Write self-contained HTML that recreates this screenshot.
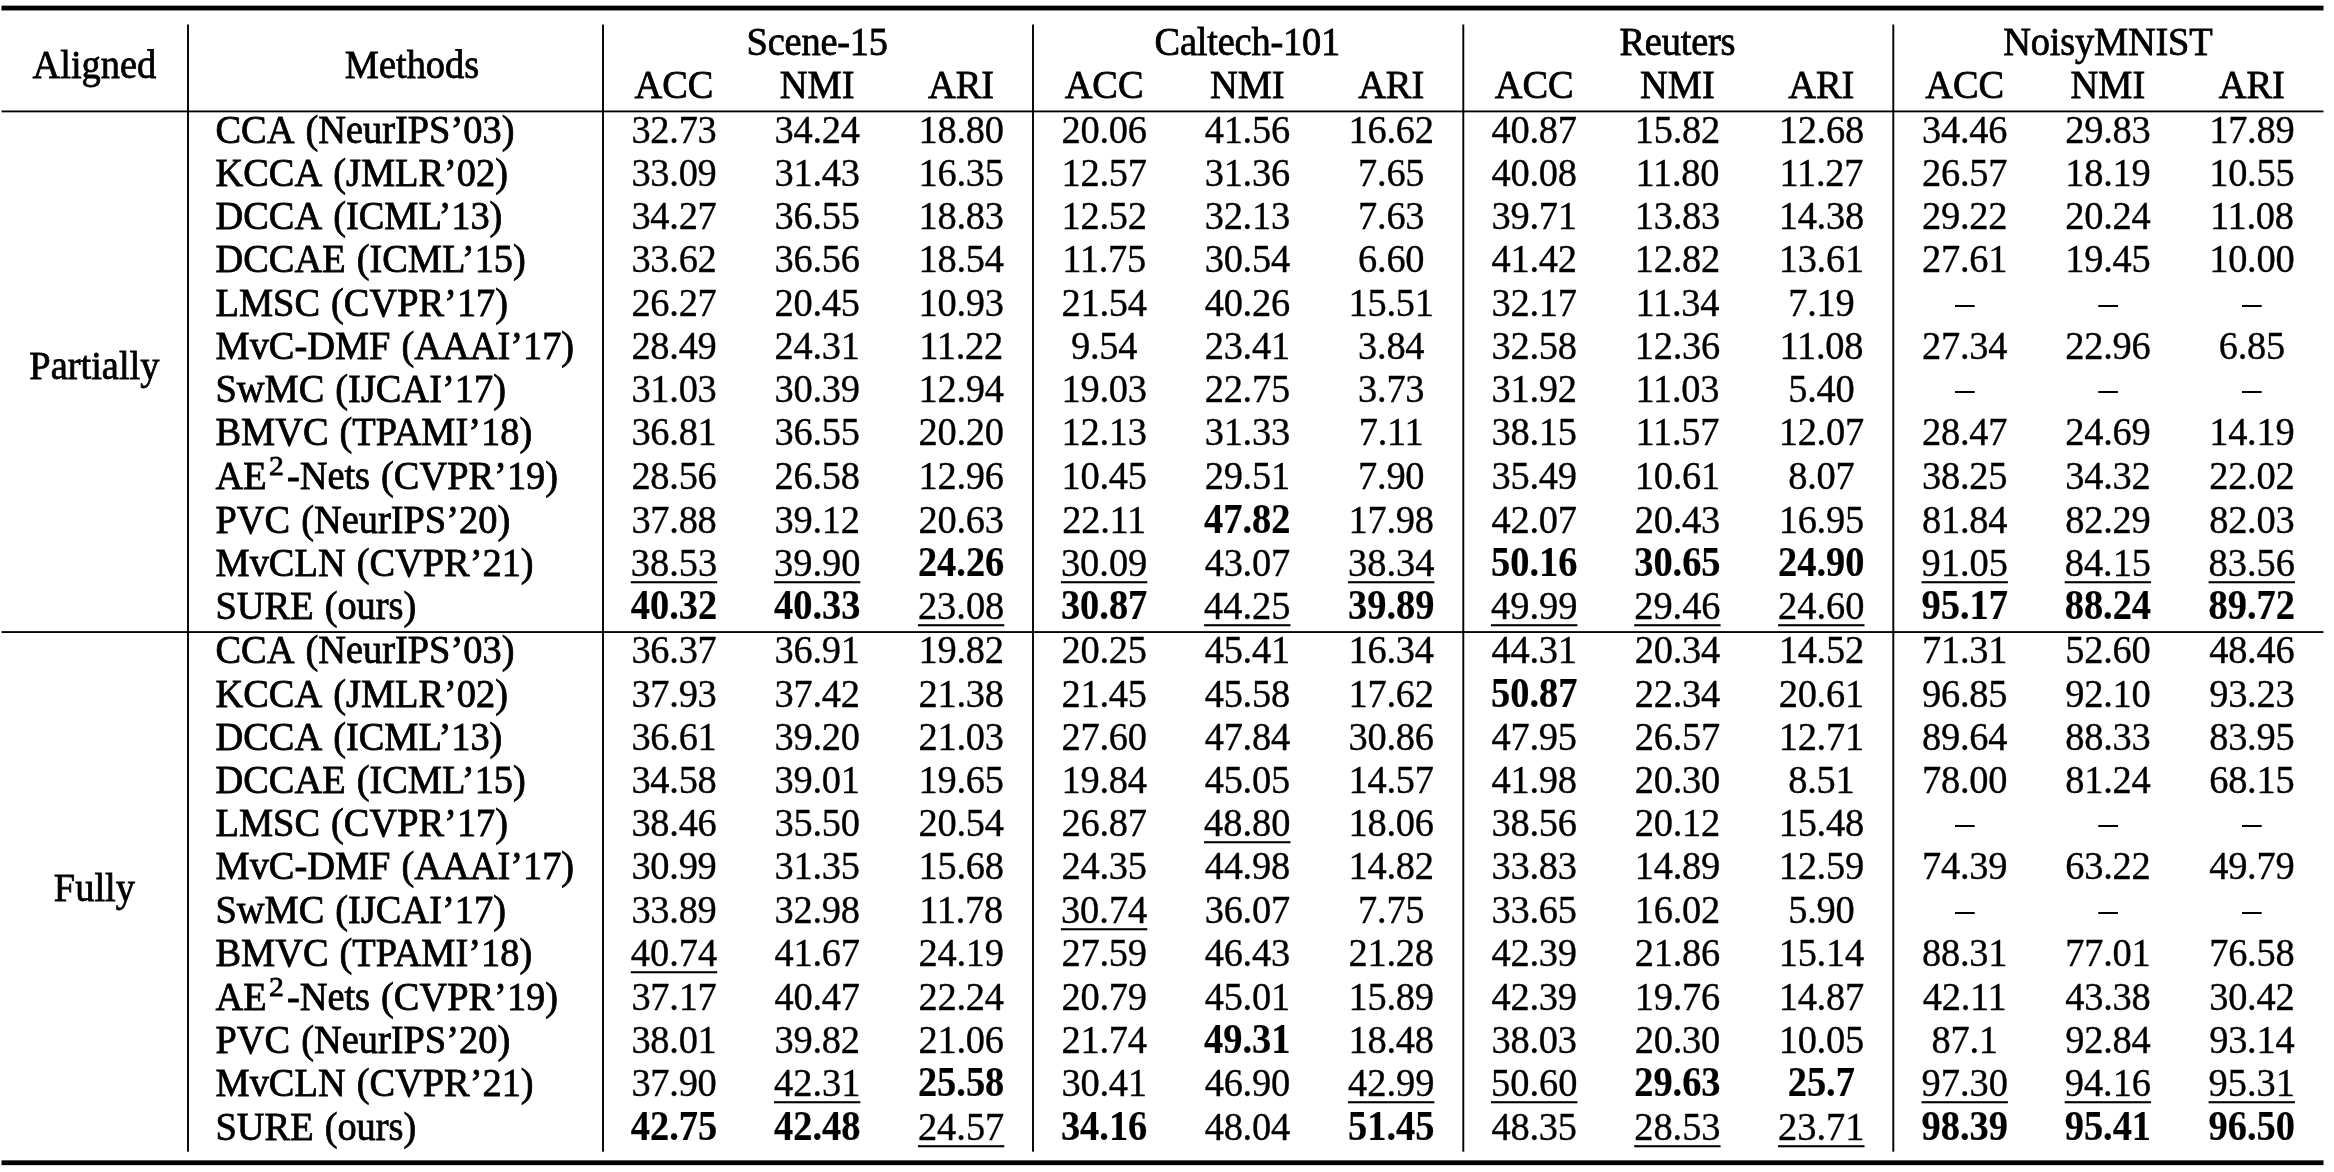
<!DOCTYPE html>
<html lang="en">
<head>
<meta charset="utf-8">
<title>Clustering results table</title>
<style>
html,body{margin:0;padding:0;background:#fff;}
body{width:2334px;height:1172px;overflow:hidden;}
#tbl{position:relative;width:2334px;height:1172px;background:#fff;color:#000;font-family:"Liberation Serif","DejaVu Serif",serif;font-size:38.4px;line-height:44px;font-kerning:normal;will-change:transform;-webkit-text-stroke:0.75px #000;}
.r{position:absolute;left:0;width:2334px;height:44px;transform:scaleY(1.04);transform-origin:0 34.96px;}
.c{position:absolute;top:0;width:160px;margin-left:-80px;text-align:center;white-space:nowrap;}
.w{width:420px;margin-left:-210px;}
.g{letter-spacing:-0.2px;}
.m{position:absolute;top:0;left:215.5px;white-space:nowrap;word-spacing:1.4px;}
b{font-weight:bold;-webkit-text-stroke:0.2px #000;letter-spacing:0;display:inline-block;transform:scaleY(1.045);transform-origin:0 34.96px;}
.d{position:relative;top:-1px;-webkit-text-stroke:0;}
.n{letter-spacing:-0.25px;-webkit-text-stroke:0.35px #000;}
.k{display:inline-block;}
u{text-decoration:underline;text-decoration-thickness:1.75px;text-underline-offset:5.1px;text-decoration-skip-ink:none;letter-spacing:0;}
sup{display:inline-block;font-size:27px;line-height:0;vertical-align:baseline;position:relative;top:-13.2px;margin:0 4.1px 0 2.6px;transform:scaleX(1.1);transform-origin:0 0;}
</style>
</head>
<body>
<div id="tbl">
<svg id="rules" width="2334" height="1172" viewBox="0 0 2334 1172" style="position:absolute;left:0;top:0" shape-rendering="geometricPrecision" fill="#000">
<rect x="1.5" y="5.65" width="2322" height="4.8"/>
<rect x="1.5" y="110.48" width="2322" height="1.85"/>
<rect x="1.5" y="631.12" width="2322" height="1.85"/>
<rect x="1.5" y="1160.35" width="2322" height="4.8"/>
<rect x="187.05" y="24.5" width="1.9" height="1127.2"/>
<rect x="602.05" y="24.5" width="1.9" height="1127.2"/>
<rect x="1032.05" y="24.5" width="1.9" height="1127.2"/>
<rect x="1462.35" y="24.5" width="1.9" height="1127.2"/>
<rect x="1892.35" y="24.5" width="1.9" height="1127.2"/>
</svg>
<div class="r" style="top:42.54px"><span class="c" style="left:94.4px">Aligned</span><span class="c w" style="left:412px">Methods</span></div>
<div class="r" style="top:20.04px"><span class="c w g" style="left:817.2px">Scene-15</span><span class="c w g" style="left:1247.3px">Caltech-101</span><span class="c w g" style="left:1677.4px">Reuters</span><span class="c w g" style="left:2107.9px">NoisyMNIST</span></div>
<div class="r" style="top:63.34px"><span class="c" style="left:674px">ACC</span><span class="c" style="left:817.2px">NMI</span><span class="c" style="left:961.1px">ARI</span><span class="c" style="left:1104.1px">ACC</span><span class="c" style="left:1247.3px">NMI</span><span class="c" style="left:1391.2px">ARI</span><span class="c" style="left:1534.2px">ACC</span><span class="c" style="left:1677.4px">NMI</span><span class="c" style="left:1821.3px">ARI</span><span class="c" style="left:1964.7px">ACC</span><span class="c" style="left:2107.9px">NMI</span><span class="c" style="left:2251.8px">ARI</span></div>
<div class="r" style="top:344.34px"><span class="c" style="left:94.4px">Partially</span></div>
<div class="r" style="top:866.04px"><span class="c" style="left:94.4px">Fully</span></div>
<div class="r" style="top:107.84px"><span class="m"><span class="k">CCA</span> <span class="k">(NeurIPS’03)</span></span><span class="c n" style="left:674px">32.73</span><span class="c n" style="left:817.2px">34.24</span><span class="c n" style="left:961.1px">18.80</span><span class="c n" style="left:1104.1px">20.06</span><span class="c n" style="left:1247.3px">41.56</span><span class="c n" style="left:1391.2px">16.62</span><span class="c n" style="left:1534.2px">40.87</span><span class="c n" style="left:1677.4px">15.82</span><span class="c n" style="left:1821.3px">12.68</span><span class="c n" style="left:1964.7px">34.46</span><span class="c n" style="left:2107.9px">29.83</span><span class="c n" style="left:2251.8px">17.89</span></div>
<div class="r" style="top:151.04px"><span class="m"><span class="k">KCCA</span> <span class="k">(JMLR’02)</span></span><span class="c n" style="left:674px">33.09</span><span class="c n" style="left:817.2px">31.43</span><span class="c n" style="left:961.1px">16.35</span><span class="c n" style="left:1104.1px">12.57</span><span class="c n" style="left:1247.3px">31.36</span><span class="c n" style="left:1391.2px">7.65</span><span class="c n" style="left:1534.2px">40.08</span><span class="c n" style="left:1677.4px">11.80</span><span class="c n" style="left:1821.3px">11.27</span><span class="c n" style="left:1964.7px">26.57</span><span class="c n" style="left:2107.9px">18.19</span><span class="c n" style="left:2251.8px">10.55</span></div>
<div class="r" style="top:194.24px"><span class="m"><span class="k">DCCA</span> <span class="k">(ICML’13)</span></span><span class="c n" style="left:674px">34.27</span><span class="c n" style="left:817.2px">36.55</span><span class="c n" style="left:961.1px">18.83</span><span class="c n" style="left:1104.1px">12.52</span><span class="c n" style="left:1247.3px">32.13</span><span class="c n" style="left:1391.2px">7.63</span><span class="c n" style="left:1534.2px">39.71</span><span class="c n" style="left:1677.4px">13.83</span><span class="c n" style="left:1821.3px">14.38</span><span class="c n" style="left:1964.7px">29.22</span><span class="c n" style="left:2107.9px">20.24</span><span class="c n" style="left:2251.8px">11.08</span></div>
<div class="r" style="top:237.44px"><span class="m"><span class="k">DCCAE</span> <span class="k">(ICML’15)</span></span><span class="c n" style="left:674px">33.62</span><span class="c n" style="left:817.2px">36.56</span><span class="c n" style="left:961.1px">18.54</span><span class="c n" style="left:1104.1px">11.75</span><span class="c n" style="left:1247.3px">30.54</span><span class="c n" style="left:1391.2px">6.60</span><span class="c n" style="left:1534.2px">41.42</span><span class="c n" style="left:1677.4px">12.82</span><span class="c n" style="left:1821.3px">13.61</span><span class="c n" style="left:1964.7px">27.61</span><span class="c n" style="left:2107.9px">19.45</span><span class="c n" style="left:2251.8px">10.00</span></div>
<div class="r" style="top:280.64px"><span class="m"><span class="k">LMSC</span> <span class="k">(CVPR’17)</span></span><span class="c n" style="left:674px">26.27</span><span class="c n" style="left:817.2px">20.45</span><span class="c n" style="left:961.1px">10.93</span><span class="c n" style="left:1104.1px">21.54</span><span class="c n" style="left:1247.3px">40.26</span><span class="c n" style="left:1391.2px">15.51</span><span class="c n" style="left:1534.2px">32.17</span><span class="c n" style="left:1677.4px">11.34</span><span class="c n" style="left:1821.3px">7.19</span><span class="c n" style="left:1964.7px"><span class="d">–</span></span><span class="c n" style="left:2107.9px"><span class="d">–</span></span><span class="c n" style="left:2251.8px"><span class="d">–</span></span></div>
<div class="r" style="top:323.84px"><span class="m"><span class="k">MvC-DMF</span> <span class="k">(AAAI’17)</span></span><span class="c n" style="left:674px">28.49</span><span class="c n" style="left:817.2px">24.31</span><span class="c n" style="left:961.1px">11.22</span><span class="c n" style="left:1104.1px">9.54</span><span class="c n" style="left:1247.3px">23.41</span><span class="c n" style="left:1391.2px">3.84</span><span class="c n" style="left:1534.2px">32.58</span><span class="c n" style="left:1677.4px">12.36</span><span class="c n" style="left:1821.3px">11.08</span><span class="c n" style="left:1964.7px">27.34</span><span class="c n" style="left:2107.9px">22.96</span><span class="c n" style="left:2251.8px">6.85</span></div>
<div class="r" style="top:367.04px"><span class="m"><span class="k">SwMC</span> <span class="k">(IJCAI’17)</span></span><span class="c n" style="left:674px">31.03</span><span class="c n" style="left:817.2px">30.39</span><span class="c n" style="left:961.1px">12.94</span><span class="c n" style="left:1104.1px">19.03</span><span class="c n" style="left:1247.3px">22.75</span><span class="c n" style="left:1391.2px">3.73</span><span class="c n" style="left:1534.2px">31.92</span><span class="c n" style="left:1677.4px">11.03</span><span class="c n" style="left:1821.3px">5.40</span><span class="c n" style="left:1964.7px"><span class="d">–</span></span><span class="c n" style="left:2107.9px"><span class="d">–</span></span><span class="c n" style="left:2251.8px"><span class="d">–</span></span></div>
<div class="r" style="top:410.24px"><span class="m"><span class="k">BMVC</span> <span class="k">(TPAMI’18)</span></span><span class="c n" style="left:674px">36.81</span><span class="c n" style="left:817.2px">36.55</span><span class="c n" style="left:961.1px">20.20</span><span class="c n" style="left:1104.1px">12.13</span><span class="c n" style="left:1247.3px">31.33</span><span class="c n" style="left:1391.2px">7.11</span><span class="c n" style="left:1534.2px">38.15</span><span class="c n" style="left:1677.4px">11.57</span><span class="c n" style="left:1821.3px">12.07</span><span class="c n" style="left:1964.7px">28.47</span><span class="c n" style="left:2107.9px">24.69</span><span class="c n" style="left:2251.8px">14.19</span></div>
<div class="r" style="top:454.44px"><span class="m"><span class="k">AE<sup>2</sup>-Nets</span> <span class="k">(CVPR’19)</span></span><span class="c n" style="left:674px">28.56</span><span class="c n" style="left:817.2px">26.58</span><span class="c n" style="left:961.1px">12.96</span><span class="c n" style="left:1104.1px">10.45</span><span class="c n" style="left:1247.3px">29.51</span><span class="c n" style="left:1391.2px">7.90</span><span class="c n" style="left:1534.2px">35.49</span><span class="c n" style="left:1677.4px">10.61</span><span class="c n" style="left:1821.3px">8.07</span><span class="c n" style="left:1964.7px">38.25</span><span class="c n" style="left:2107.9px">34.32</span><span class="c n" style="left:2251.8px">22.02</span></div>
<div class="r" style="top:497.64px"><span class="m"><span class="k">PVC</span> <span class="k">(NeurIPS’20)</span></span><span class="c n" style="left:674px">37.88</span><span class="c n" style="left:817.2px">39.12</span><span class="c n" style="left:961.1px">20.63</span><span class="c n" style="left:1104.1px">22.11</span><span class="c n" style="left:1247.3px"><b>47.82</b></span><span class="c n" style="left:1391.2px">17.98</span><span class="c n" style="left:1534.2px">42.07</span><span class="c n" style="left:1677.4px">20.43</span><span class="c n" style="left:1821.3px">16.95</span><span class="c n" style="left:1964.7px">81.84</span><span class="c n" style="left:2107.9px">82.29</span><span class="c n" style="left:2251.8px">82.03</span></div>
<div class="r" style="top:540.84px"><span class="m"><span class="k">MvCLN</span> <span class="k">(CVPR’21)</span></span><span class="c n" style="left:674px"><u>38.53</u></span><span class="c n" style="left:817.2px"><u>39.90</u></span><span class="c n" style="left:961.1px"><b>24.26</b></span><span class="c n" style="left:1104.1px"><u>30.09</u></span><span class="c n" style="left:1247.3px">43.07</span><span class="c n" style="left:1391.2px"><u>38.34</u></span><span class="c n" style="left:1534.2px"><b>50.16</b></span><span class="c n" style="left:1677.4px"><b>30.65</b></span><span class="c n" style="left:1821.3px"><b>24.90</b></span><span class="c n" style="left:1964.7px"><u>91.05</u></span><span class="c n" style="left:2107.9px"><u>84.15</u></span><span class="c n" style="left:2251.8px"><u>83.56</u></span></div>
<div class="r" style="top:584.04px"><span class="m"><span class="k">SURE</span> <span class="k">(ours)</span></span><span class="c n" style="left:674px"><b>40.32</b></span><span class="c n" style="left:817.2px"><b>40.33</b></span><span class="c n" style="left:961.1px"><u>23.08</u></span><span class="c n" style="left:1104.1px"><b>30.87</b></span><span class="c n" style="left:1247.3px"><u>44.25</u></span><span class="c n" style="left:1391.2px"><b>39.89</b></span><span class="c n" style="left:1534.2px"><u>49.99</u></span><span class="c n" style="left:1677.4px"><u>29.46</u></span><span class="c n" style="left:1821.3px"><u>24.60</u></span><span class="c n" style="left:1964.7px"><b>95.17</b></span><span class="c n" style="left:2107.9px"><b>88.24</b></span><span class="c n" style="left:2251.8px"><b>89.72</b></span></div>
<div class="r" style="top:628.34px"><span class="m"><span class="k">CCA</span> <span class="k">(NeurIPS’03)</span></span><span class="c n" style="left:674px">36.37</span><span class="c n" style="left:817.2px">36.91</span><span class="c n" style="left:961.1px">19.82</span><span class="c n" style="left:1104.1px">20.25</span><span class="c n" style="left:1247.3px">45.41</span><span class="c n" style="left:1391.2px">16.34</span><span class="c n" style="left:1534.2px">44.31</span><span class="c n" style="left:1677.4px">20.34</span><span class="c n" style="left:1821.3px">14.52</span><span class="c n" style="left:1964.7px">71.31</span><span class="c n" style="left:2107.9px">52.60</span><span class="c n" style="left:2251.8px">48.46</span></div>
<div class="r" style="top:671.54px"><span class="m"><span class="k">KCCA</span> <span class="k">(JMLR’02)</span></span><span class="c n" style="left:674px">37.93</span><span class="c n" style="left:817.2px">37.42</span><span class="c n" style="left:961.1px">21.38</span><span class="c n" style="left:1104.1px">21.45</span><span class="c n" style="left:1247.3px">45.58</span><span class="c n" style="left:1391.2px">17.62</span><span class="c n" style="left:1534.2px"><b>50.87</b></span><span class="c n" style="left:1677.4px">22.34</span><span class="c n" style="left:1821.3px">20.61</span><span class="c n" style="left:1964.7px">96.85</span><span class="c n" style="left:2107.9px">92.10</span><span class="c n" style="left:2251.8px">93.23</span></div>
<div class="r" style="top:714.74px"><span class="m"><span class="k">DCCA</span> <span class="k">(ICML’13)</span></span><span class="c n" style="left:674px">36.61</span><span class="c n" style="left:817.2px">39.20</span><span class="c n" style="left:961.1px">21.03</span><span class="c n" style="left:1104.1px">27.60</span><span class="c n" style="left:1247.3px">47.84</span><span class="c n" style="left:1391.2px">30.86</span><span class="c n" style="left:1534.2px">47.95</span><span class="c n" style="left:1677.4px">26.57</span><span class="c n" style="left:1821.3px">12.71</span><span class="c n" style="left:1964.7px">89.64</span><span class="c n" style="left:2107.9px">88.33</span><span class="c n" style="left:2251.8px">83.95</span></div>
<div class="r" style="top:757.94px"><span class="m"><span class="k">DCCAE</span> <span class="k">(ICML’15)</span></span><span class="c n" style="left:674px">34.58</span><span class="c n" style="left:817.2px">39.01</span><span class="c n" style="left:961.1px">19.65</span><span class="c n" style="left:1104.1px">19.84</span><span class="c n" style="left:1247.3px">45.05</span><span class="c n" style="left:1391.2px">14.57</span><span class="c n" style="left:1534.2px">41.98</span><span class="c n" style="left:1677.4px">20.30</span><span class="c n" style="left:1821.3px">8.51</span><span class="c n" style="left:1964.7px">78.00</span><span class="c n" style="left:2107.9px">81.24</span><span class="c n" style="left:2251.8px">68.15</span></div>
<div class="r" style="top:801.14px"><span class="m"><span class="k">LMSC</span> <span class="k">(CVPR’17)</span></span><span class="c n" style="left:674px">38.46</span><span class="c n" style="left:817.2px">35.50</span><span class="c n" style="left:961.1px">20.54</span><span class="c n" style="left:1104.1px">26.87</span><span class="c n" style="left:1247.3px"><u>48.80</u></span><span class="c n" style="left:1391.2px">18.06</span><span class="c n" style="left:1534.2px">38.56</span><span class="c n" style="left:1677.4px">20.12</span><span class="c n" style="left:1821.3px">15.48</span><span class="c n" style="left:1964.7px"><span class="d">–</span></span><span class="c n" style="left:2107.9px"><span class="d">–</span></span><span class="c n" style="left:2251.8px"><span class="d">–</span></span></div>
<div class="r" style="top:844.34px"><span class="m"><span class="k">MvC-DMF</span> <span class="k">(AAAI’17)</span></span><span class="c n" style="left:674px">30.99</span><span class="c n" style="left:817.2px">31.35</span><span class="c n" style="left:961.1px">15.68</span><span class="c n" style="left:1104.1px">24.35</span><span class="c n" style="left:1247.3px">44.98</span><span class="c n" style="left:1391.2px">14.82</span><span class="c n" style="left:1534.2px">33.83</span><span class="c n" style="left:1677.4px">14.89</span><span class="c n" style="left:1821.3px">12.59</span><span class="c n" style="left:1964.7px">74.39</span><span class="c n" style="left:2107.9px">63.22</span><span class="c n" style="left:2251.8px">49.79</span></div>
<div class="r" style="top:887.54px"><span class="m"><span class="k">SwMC</span> <span class="k">(IJCAI’17)</span></span><span class="c n" style="left:674px">33.89</span><span class="c n" style="left:817.2px">32.98</span><span class="c n" style="left:961.1px">11.78</span><span class="c n" style="left:1104.1px"><u>30.74</u></span><span class="c n" style="left:1247.3px">36.07</span><span class="c n" style="left:1391.2px">7.75</span><span class="c n" style="left:1534.2px">33.65</span><span class="c n" style="left:1677.4px">16.02</span><span class="c n" style="left:1821.3px">5.90</span><span class="c n" style="left:1964.7px"><span class="d">–</span></span><span class="c n" style="left:2107.9px"><span class="d">–</span></span><span class="c n" style="left:2251.8px"><span class="d">–</span></span></div>
<div class="r" style="top:930.74px"><span class="m"><span class="k">BMVC</span> <span class="k">(TPAMI’18)</span></span><span class="c n" style="left:674px"><u>40.74</u></span><span class="c n" style="left:817.2px">41.67</span><span class="c n" style="left:961.1px">24.19</span><span class="c n" style="left:1104.1px">27.59</span><span class="c n" style="left:1247.3px">46.43</span><span class="c n" style="left:1391.2px">21.28</span><span class="c n" style="left:1534.2px">42.39</span><span class="c n" style="left:1677.4px">21.86</span><span class="c n" style="left:1821.3px">15.14</span><span class="c n" style="left:1964.7px">88.31</span><span class="c n" style="left:2107.9px">77.01</span><span class="c n" style="left:2251.8px">76.58</span></div>
<div class="r" style="top:974.94px"><span class="m"><span class="k">AE<sup>2</sup>-Nets</span> <span class="k">(CVPR’19)</span></span><span class="c n" style="left:674px">37.17</span><span class="c n" style="left:817.2px">40.47</span><span class="c n" style="left:961.1px">22.24</span><span class="c n" style="left:1104.1px">20.79</span><span class="c n" style="left:1247.3px">45.01</span><span class="c n" style="left:1391.2px">15.89</span><span class="c n" style="left:1534.2px">42.39</span><span class="c n" style="left:1677.4px">19.76</span><span class="c n" style="left:1821.3px">14.87</span><span class="c n" style="left:1964.7px">42.11</span><span class="c n" style="left:2107.9px">43.38</span><span class="c n" style="left:2251.8px">30.42</span></div>
<div class="r" style="top:1018.14px"><span class="m"><span class="k">PVC</span> <span class="k">(NeurIPS’20)</span></span><span class="c n" style="left:674px">38.01</span><span class="c n" style="left:817.2px">39.82</span><span class="c n" style="left:961.1px">21.06</span><span class="c n" style="left:1104.1px">21.74</span><span class="c n" style="left:1247.3px"><b>49.31</b></span><span class="c n" style="left:1391.2px">18.48</span><span class="c n" style="left:1534.2px">38.03</span><span class="c n" style="left:1677.4px">20.30</span><span class="c n" style="left:1821.3px">10.05</span><span class="c n" style="left:1964.7px">87.1</span><span class="c n" style="left:2107.9px">92.84</span><span class="c n" style="left:2251.8px">93.14</span></div>
<div class="r" style="top:1061.34px"><span class="m"><span class="k">MvCLN</span> <span class="k">(CVPR’21)</span></span><span class="c n" style="left:674px">37.90</span><span class="c n" style="left:817.2px"><u>42.31</u></span><span class="c n" style="left:961.1px"><b>25.58</b></span><span class="c n" style="left:1104.1px">30.41</span><span class="c n" style="left:1247.3px">46.90</span><span class="c n" style="left:1391.2px"><u>42.99</u></span><span class="c n" style="left:1534.2px"><u>50.60</u></span><span class="c n" style="left:1677.4px"><b>29.63</b></span><span class="c n" style="left:1821.3px"><b>25.7</b></span><span class="c n" style="left:1964.7px"><u>97.30</u></span><span class="c n" style="left:2107.9px"><u>94.16</u></span><span class="c n" style="left:2251.8px"><u>95.31</u></span></div>
<div class="r" style="top:1104.54px"><span class="m"><span class="k">SURE</span> <span class="k">(ours)</span></span><span class="c n" style="left:674px"><b>42.75</b></span><span class="c n" style="left:817.2px"><b>42.48</b></span><span class="c n" style="left:961.1px"><u>24.57</u></span><span class="c n" style="left:1104.1px"><b>34.16</b></span><span class="c n" style="left:1247.3px">48.04</span><span class="c n" style="left:1391.2px"><b>51.45</b></span><span class="c n" style="left:1534.2px">48.35</span><span class="c n" style="left:1677.4px"><u>28.53</u></span><span class="c n" style="left:1821.3px"><u>23.71</u></span><span class="c n" style="left:1964.7px"><b>98.39</b></span><span class="c n" style="left:2107.9px"><b>95.41</b></span><span class="c n" style="left:2251.8px"><b>96.50</b></span></div>
</div>
</body>
</html>
